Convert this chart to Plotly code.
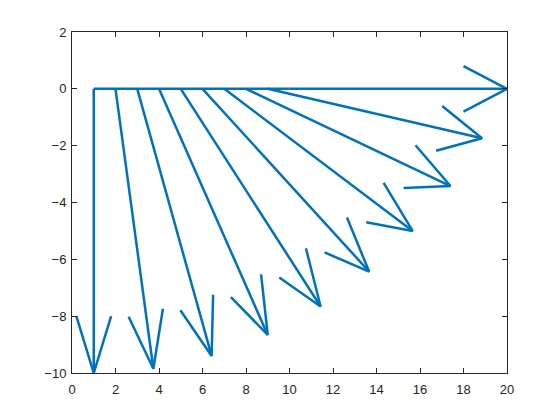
import plotly.graph_objects as go

# Feather plot: arrows from (i, 0) with components (u, v)
x0 = [1, 2, 3, 4, 5, 6, 7, 8, 9, 10]
u = [0.0, 1.74, 3.42, 5.0, 6.43, 7.66, 8.66, 9.40, 9.85, 10.0]
v = [-10.0, -9.85, -9.40, -8.66, -7.66, -6.43, -5.0, -3.42, -1.74, 0.0]

x_ticks = list(range(0, 21, 2))
y_ticks = list(range(-10, 3, 2))

head_len, head_w = 0.2, 0.08  # feather arrowhead proportions

xs, ys = [], []
for xi, ui, vi in zip(x0, u, v):
    yi = 0
    xe, ye = xi + ui, yi + vi
    xs += [xi, xe, None]
    ys += [yi, ye, None]
    # arrowhead
    bx, by = xi + (1 - head_len) * ui, yi + (1 - head_len) * vi
    px, py = -vi * head_w, ui * head_w
    xs += [bx + px, xe, bx - px, None]
    ys += [by + py, ye, by - py, None]

# baseline
xs += [x0[0], x0[-1], None]
ys += [0, 0, None]

fig = go.Figure(go.Scatter(x=xs, y=ys, mode="lines",
                           line=dict(color="#0072BD", width=2.5),
                           hoverinfo="skip", showlegend=False))

axis_common = dict(showgrid=False, zeroline=False, showline=True, mirror="ticks",
                   linecolor="#262626", linewidth=1, ticks="inside", ticklen=5,
                   tickcolor="#262626",
                   tickfont=dict(family="Liberation Sans, Arial", size=13, color="#262626"))

fig.update_layout(
    width=560, height=420,
    margin=dict(l=64, r=61, t=24, b=55),
    paper_bgcolor="white", plot_bgcolor="white",
    xaxis=dict(range=[0, 20], tickvals=x_ticks, ticklabelstandoff=4, **axis_common),
    yaxis=dict(range=[-10, 2], tickvals=y_ticks, ticklabelstandoff=2, **axis_common),
)
fig.write_html("out.html")
